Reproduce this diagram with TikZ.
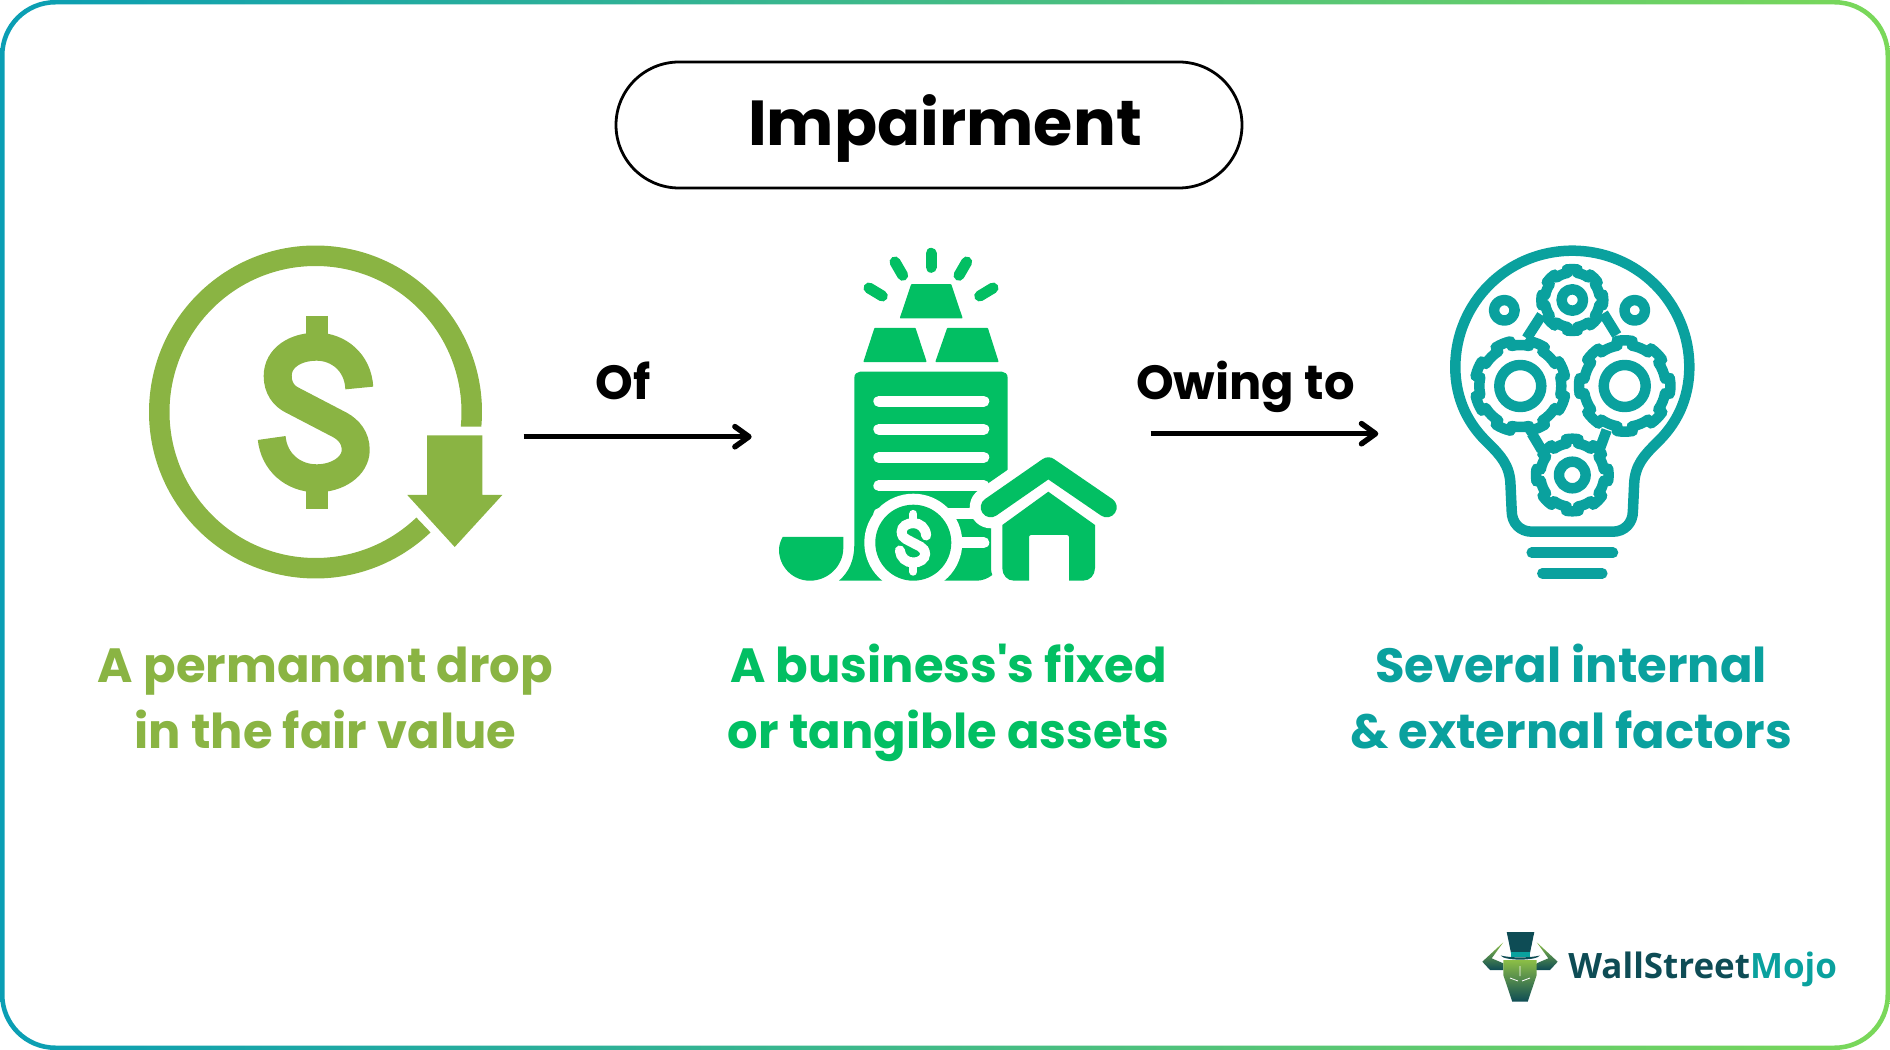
\documentclass[tikz,border=0pt]{standalone}
\usepackage{fontspec}
\setmainfont{Poppins}
\newfontfamily\logofont{Open Sans}
\usetikzlibrary{arrows.meta}
\newlength{\px}
\setlength{\px}{0.02cm}
\definecolor{dropgreen}{RGB}{138,180,67}
\definecolor{assetgreen}{RGB}{2,191,99}
\definecolor{factorteal}{RGB}{10,161,158}
\definecolor{logodark}{RGB}{14,76,85}
\definecolor{edgeteal}{RGB}{10,158,180}
\definecolor{edgegreen}{RGB}{122,216,89}
\definecolor{faceleaf}{RGB}{140,190,70}
\tikzstyle{bigtext}=[font=\fontsize{27.35}{37.4}\selectfont\bfseries,align=center,inner sep=0pt]
\tikzstyle{linktext}=[font=\fontsize{27.3}{33}\selectfont\bfseries,anchor=base,inner sep=0pt]
\tikzstyle{bulbline}=[draw=factorteal,line width=10.5\px,line join=round,line cap=round]
\tikzstyle{gearline}=[draw=factorteal,line width=10.5\px,line join=round,line cap=round]
\tikzstyle{linkarrow}=[draw=black,line width=5.5\px,-{Straight Barb[length=8pt,width=11.5pt,round]}]
\tikzstyle{whitebar}=[draw=white,line width=11\px,line cap=round]
\tikzstyle{ray}=[draw=assetgreen,line width=11\px,line cap=round]
\tikzstyle{goldbar}=[fill=assetgreen,draw=assetgreen,line width=1.5\px,line join=round]
\newcommand{\gearwheel}[5]{%
  \foreach \a in {0,45,...,315} {
    \draw[gearline,shift={(#1,#2)},rotate=#5] (\a-10:#4) arc (\a-10:\a+10:#4) -- (\a+10:#3) arc (\a+10:\a+35:#3) -- (\a+35:#4);
  }}
\newcommand{\dollarsign}[6]{%
  \begin{scope}[shift={(#1,#2)},scale=#3,shift={(-316.5,-412)}]
    \draw[#4,line width=#5\px] (359.3,388) .. controls (358,362) and (338,346.7) .. (316.7,346.7) .. controls (295,346.7) and (277.7,358) .. (277.7,376) .. controls (277.7,388) and (284,396) .. (292,400) -- (340,425) .. controls (349,430) and (355.7,438) .. (355.7,450) .. controls (355.7,466) and (338,478.3) .. (316.7,478.3) .. controls (293,478.3) and (274,462) .. (271.7,438);
    \draw[#4,line width=#6\px] (316.5,316) -- (316.5,340) (316.5,485) -- (316.5,508.7);
  \end{scope}}
\begin{document}
\begin{tikzpicture}[x=0.02cm,y=0.02cm,yscale=-1]
  \useasboundingbox (0,0) rectangle (1890,1050);
  % Frame
  \shade[left color=edgeteal,right color=edgegreen,even odd rule] [rounded corners=55\px] (0,0) rectangle (1890,1050) [rounded corners=51\px] (4.5,4.5) rectangle (1885.5,1045.5);
  % Title
  \node[draw=black,line width=2.8\px,rounded corners=63\px,minimum width=626\px,minimum height=126\px] (titlebox) at (929,125) {};
  \node[font=\fontsize{36.2}{40}\selectfont\bfseries,anchor=base,inner sep=0pt] (title) at (945,146) {Impairment};

  % Dollar drop icon
  \begin{scope}[shift={(315.5,412)}]
    \fill[dropgreen] (5.07:166.5) arc (5.07:-313.7:166.5) -- (-313.7:146) arc (-313.7:5.78:146) -- cycle;
  \end{scope}
  \fill[dropgreen] (427,435.3) -- (482.3,435.3) -- (482.3,495) -- (502.3,495) -- (454.7,547) -- (407.3,495) -- (427,495) -- cycle;
  \dollarsign{316.5}{412}{1}{draw=dropgreen}{28}{22}

  % Assets icon
  \draw[ray] (931,253.3) -- (931,267.3);
  \draw[ray] (895,262) -- (902.7,275.3);
  \draw[ray] (966.7,262) -- (959,275.3);
  \draw[ray] (869,288) -- (882.3,296);
  \draw[ray] (993,288) -- (979.7,296);
  \path[goldbar] (911.7,285) -- (950.7,285) -- (961.7,317.7) -- (900.7,317.7) -- cycle;
  \path[goldbar] (875,328.7) -- (915,328.7) -- (925.7,361.3) -- (864.3,361.3) -- cycle;
  \path[goldbar] (947.7,328.7) -- (987.3,328.7) -- (997.7,361.3) -- (936.3,361.3) -- cycle;
  \fill[assetgreen] (854.3,378) .. controls (854.3,374) and (857,371.7) .. (860,371.7) -- (1002,371.7) .. controls (1005,371.7) and (1007.7,374) .. (1007.7,378) -- (1007.7,510) -- (991,510) -- (991,568) .. controls (991,571) and (991.5,573) .. (992.3,575) .. controls (988,578.5) and (982,580.7) .. (976.7,580.7) -- (839,580.7) .. controls (849,572) and (854.3,560) .. (854.3,545) -- cycle;
  \fill[assetgreen] (782.7,537) -- (843.3,537) -- (843.3,548) .. controls (843.3,566) and (828,580.7) .. (810,580.7) .. controls (792,580.7) and (779,566) .. (779,550) .. controls (779,545) and (780.5,541) .. (782.7,537) -- cycle;
  \foreach \y in {401.3,429.3,457.3,485.7,514,542.7} {
    \draw[whitebar] (878.8,\y) -- (983.8,\y);
  }
  \draw[draw=white,line width=42\px,line cap=round,line join=round] (990.7,507.3) -- (1048.3,467.3) -- (1106.7,507.3);
  \fill[white] (913.3,542.7) circle (49);
  \fill[assetgreen] (913.3,542.7) circle (38);
  \dollarsign{913.3}{542.7}{0.3}{draw=white,line cap=round}{10}{8}
  \draw[draw=assetgreen,line width=20\px,line cap=round,line join=round] (990.7,507.3) -- (1048.3,467.3) -- (1106.7,507.3);
  \fill[assetgreen] (1048.3,491.7) -- (1095,525) -- (1095,568) .. controls (1095,575) and (1090,580.7) .. (1083,580.7) -- (1069,580.7) -- (1069,537) .. controls (1069,536) and (1068,535) .. (1067,535) -- (1031,535) .. controls (1030,535) and (1029,536) .. (1029,537) -- (1029,580.7) -- (1014,580.7) .. controls (1007,580.7) and (1002.3,575) .. (1002.3,568) -- (1002.3,525) -- cycle;

  % Bulb icon
  \draw[bulbline] (1572.3,250.7) .. controls (1507,250.7) and (1455.3,303) .. (1455.3,367) .. controls (1455.3,400) and (1469,425) .. (1488,443) .. controls (1500,455) and (1510,465) .. (1510.5,485) -- (1511.7,511) .. controls (1511.7,523) and (1520,531.7) .. (1532,531.7) -- (1612.6,531.7) .. controls (1624.6,531.7) and (1632.9,523) .. (1632.9,511) -- (1634.1,485) .. controls (1634.6,465) and (1644.6,455) .. (1656.6,443) .. controls (1675.6,425) and (1689.3,400) .. (1689.3,367) .. controls (1689.3,303) and (1637.6,250.7) .. (1572.3,250.7) -- cycle;
  \draw[bulbline] (1531.7,552.7) -- (1613,552.7);
  \draw[bulbline] (1542.3,573.3) -- (1602.3,573.3);
  \draw[bulbline] (1504.3,310.3) circle (10.3);
  \draw[bulbline] (1634.7,310.3) circle (10.3);
  \gearwheel{1572.3}{300}{27.5}{31}{0}
  \gearwheel{1520.3}{386}{41}{45.7}{22.5}
  \gearwheel{1624.7}{386}{41}{45.7}{0}
  \gearwheel{1572.3}{475}{32}{36.3}{0}
  \draw[bulbline] (1572.3,300) circle (10.7);
  \draw[bulbline] (1520.3,386) circle (21);
  \draw[bulbline] (1624.7,386) circle (21);
  \draw[bulbline] (1572.3,475) circle (13.3);
  \draw[gearline,line cap=butt] (1541.7,315) -- (1526.7,338.3);
  \draw[gearline,line cap=butt] (1603.3,313.3) -- (1616.7,335);
  \draw[gearline,line cap=butt] (1531.7,433.3) -- (1541.7,450);
  \draw[gearline,line cap=butt] (1606.7,430) -- (1600,448.3);

  % Connectors
  \coordinate (ofstart) at (523.7,436.7);
  \coordinate (ofend) at (751.7,436.7);
  \coordinate (owingstart) at (1150.7,433.7);
  \coordinate (owingend) at (1378.3,433.7);
  \draw[linkarrow] (ofstart) -- (ofend);
  \draw[linkarrow] (owingstart) -- (owingend);
  \node[linktext] (oflabel) at (623,400) {Of};
  \node[linktext] (owinglabel) at (1245.5,400) {Owing to};

  % Captions
  \node[bigtext,text=dropgreen] (droplabel) at (325.5,698) {A permanant drop\\in the fair value};
  \node[bigtext,text=assetgreen] (assetlabel) at (948.5,703) {A business{\addfontfeature{Ligatures=TeXOff}'}s fixed\\or tangible assets};
  \node[bigtext,text=factorteal] (factorlabel) at (1571,696.5) {Several internal\\\& external factors};

  % Logo
  \shade[top color=faceleaf,bottom color=logodark] (1503.3,942.3) -- (1482.3,961.7) -- (1490,970) -- (1503.3,970) -- (1503.3,963.3) -- (1491.7,958.3) -- cycle;
  \shade[top color=faceleaf,bottom color=logodark] (1536.7,942.3) -- (1557.7,961.7) -- (1550,970) -- (1536.7,970) -- (1536.7,963.3) -- (1548.3,958.3) -- cycle;
  \shade[top color=faceleaf,middle color=faceleaf,bottom color=logodark] (1503.3,960) -- (1536.7,960) -- (1536.7,975) -- (1527.7,1001.7) -- (1512.3,1001.7) -- (1503.3,975) -- cycle;
  \draw[white,line width=0.8\px] (1510,978) -- (1518,981) (1530,978) -- (1522,981) (1520,966) -- (1520,976);
  \fill[logodark] (1506.7,932) -- (1534.3,932) -- (1530,953) -- (1511,953) -- cycle;
  \fill[factorteal] (1511,952) rectangle (1530,957);
  \fill[logodark] (1500.7,955.5) .. controls (1510,958) and (1530,958) .. (1540,955.5) .. controls (1536,961) and (1504,961) .. (1500.7,955.5) -- cycle;
  \node[font=\logofont\fontsize{19.9}{24}\selectfont\bfseries,anchor=base west,inner sep=0pt,text=logodark] (logotext) at (1568,978) {WallStreet\textcolor{factorteal}{Mojo}};
\end{tikzpicture}
\end{document}
